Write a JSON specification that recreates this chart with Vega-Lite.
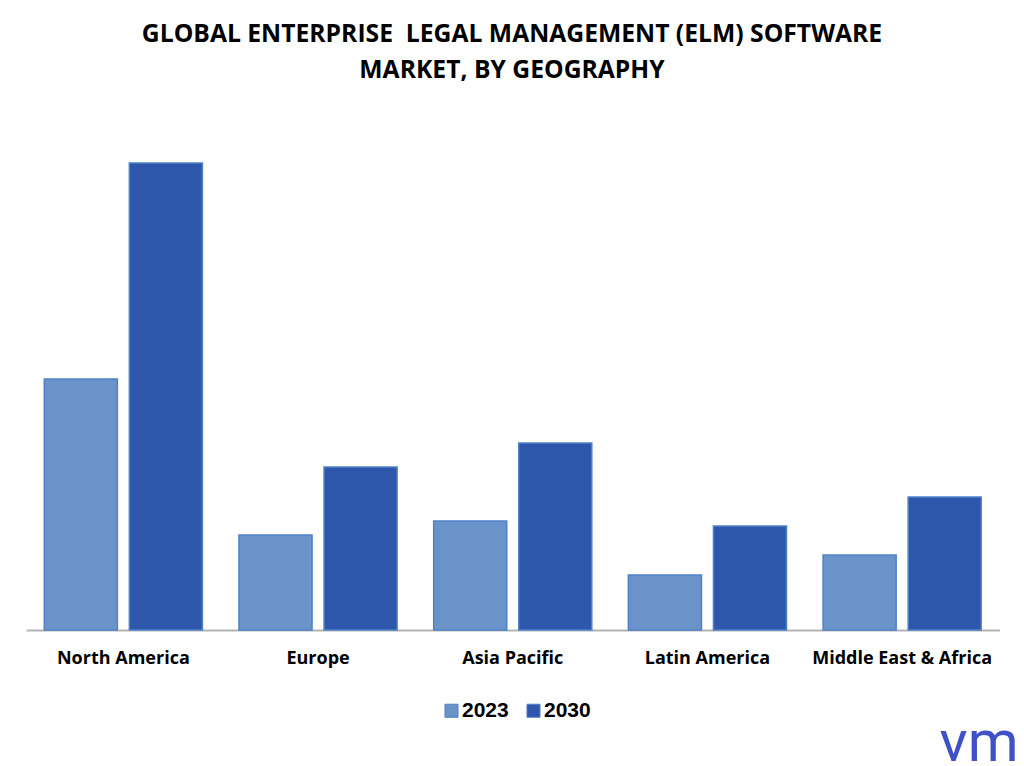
{
  "$schema": "https://vega.github.io/schema/vega-lite/v6.json",
  "width": 970,
  "height": 520,
  "autosize": "none",
  "padding": {"left": 27, "top": 110, "right": 27, "bottom": 136},
  "background": "#ffffff",
  "title": {
    "text": ["GLOBAL ENTERPRISE\u00a0 LEGAL MANAGEMENT (ELM) SOFTWARE", "MARKET, BY GEOGRAPHY"],
    "anchor": "middle",
    "font": "Open Sans",
    "fontSize": 24.7,
    "fontWeight": 700,
    "lineHeight": 36,
    "color": "#000000",
    "frame": "group",
    "offset": 27
  },
  "data": {
    "values": [
      {"Region": "North America", "Year": "2023", "Value": 251},
      {"Region": "North America", "Year": "2030", "Value": 467},
      {"Region": "Europe", "Year": "2023", "Value": 95},
      {"Region": "Europe", "Year": "2030", "Value": 163},
      {"Region": "Asia Pacific", "Year": "2023", "Value": 109},
      {"Region": "Asia Pacific", "Year": "2030", "Value": 187},
      {"Region": "Latin America", "Year": "2023", "Value": 55},
      {"Region": "Latin America", "Year": "2030", "Value": 104},
      {"Region": "Middle East & Africa", "Year": "2023", "Value": 75},
      {"Region": "Middle East & Africa", "Year": "2030", "Value": 133}
    ]
  },
  "mark": {"type": "bar", "stroke": "#4f81c7", "strokeWidth": 1.5},
  "encoding": {
    "x": {
      "field": "Region",
      "type": "nominal",
      "sort": null,
      "scale": {"paddingInner": 0, "paddingOuter": 0, "range": [-1, 972.5]},
      "axis": {
        "title": "vm",
        "titleFont": "Roboto",
        "titleFontSize": 58,
        "titleFontWeight": "normal",
        "titleColor": "#3f51c8",
        "titleAnchor": "end",
        "titleAlign": "right",
        "titleBaseline": "alphabetic",
        "titleX": 991,
        "titleY": 130,
        "labelAngle": 0,
        "labelFont": "Open Sans",
        "labelFontSize": 18,
        "labelFontWeight": 700,
        "labelColor": "#000000",
        "labelPadding": 19,
        "labelOverlap": false,
        "ticks": false,
        "domain": false,
        "grid": false
      }
    },
    "xOffset": {
      "field": "Year",
      "type": "nominal",
      "scale": {"paddingInner": 0.141, "paddingOuter": 0.215}
    },
    "y": {
      "field": "Value",
      "type": "quantitative",
      "scale": {"domain": [0, 520]},
      "axis": {
        "title": null,
        "values": [0],
        "labels": false,
        "ticks": false,
        "domain": false,
        "grid": true,
        "gridColor": "#b3b3b3",
        "gridWidth": 2
      }
    },
    "color": {
      "field": "Year",
      "type": "nominal",
      "scale": {"domain": ["2023", "2030"], "range": ["#6a94c9", "#2e57ab"]},
      "legend": {
        "title": null,
        "orient": "none",
        "direction": "horizontal",
        "legendX": 414,
        "legendY": 590,
        "symbolType": "square",
        "symbolSize": 170,
        "symbolStrokeWidth": 1,
        "labelFont": "Liberation Sans",
        "labelFontSize": 21,
        "labelFontWeight": "bold",
        "labelColor": "#000000",
        "labelOffset": 0,
        "columnPadding": 14
      }
    }
  },
  "config": {"view": {"stroke": null}}
}
